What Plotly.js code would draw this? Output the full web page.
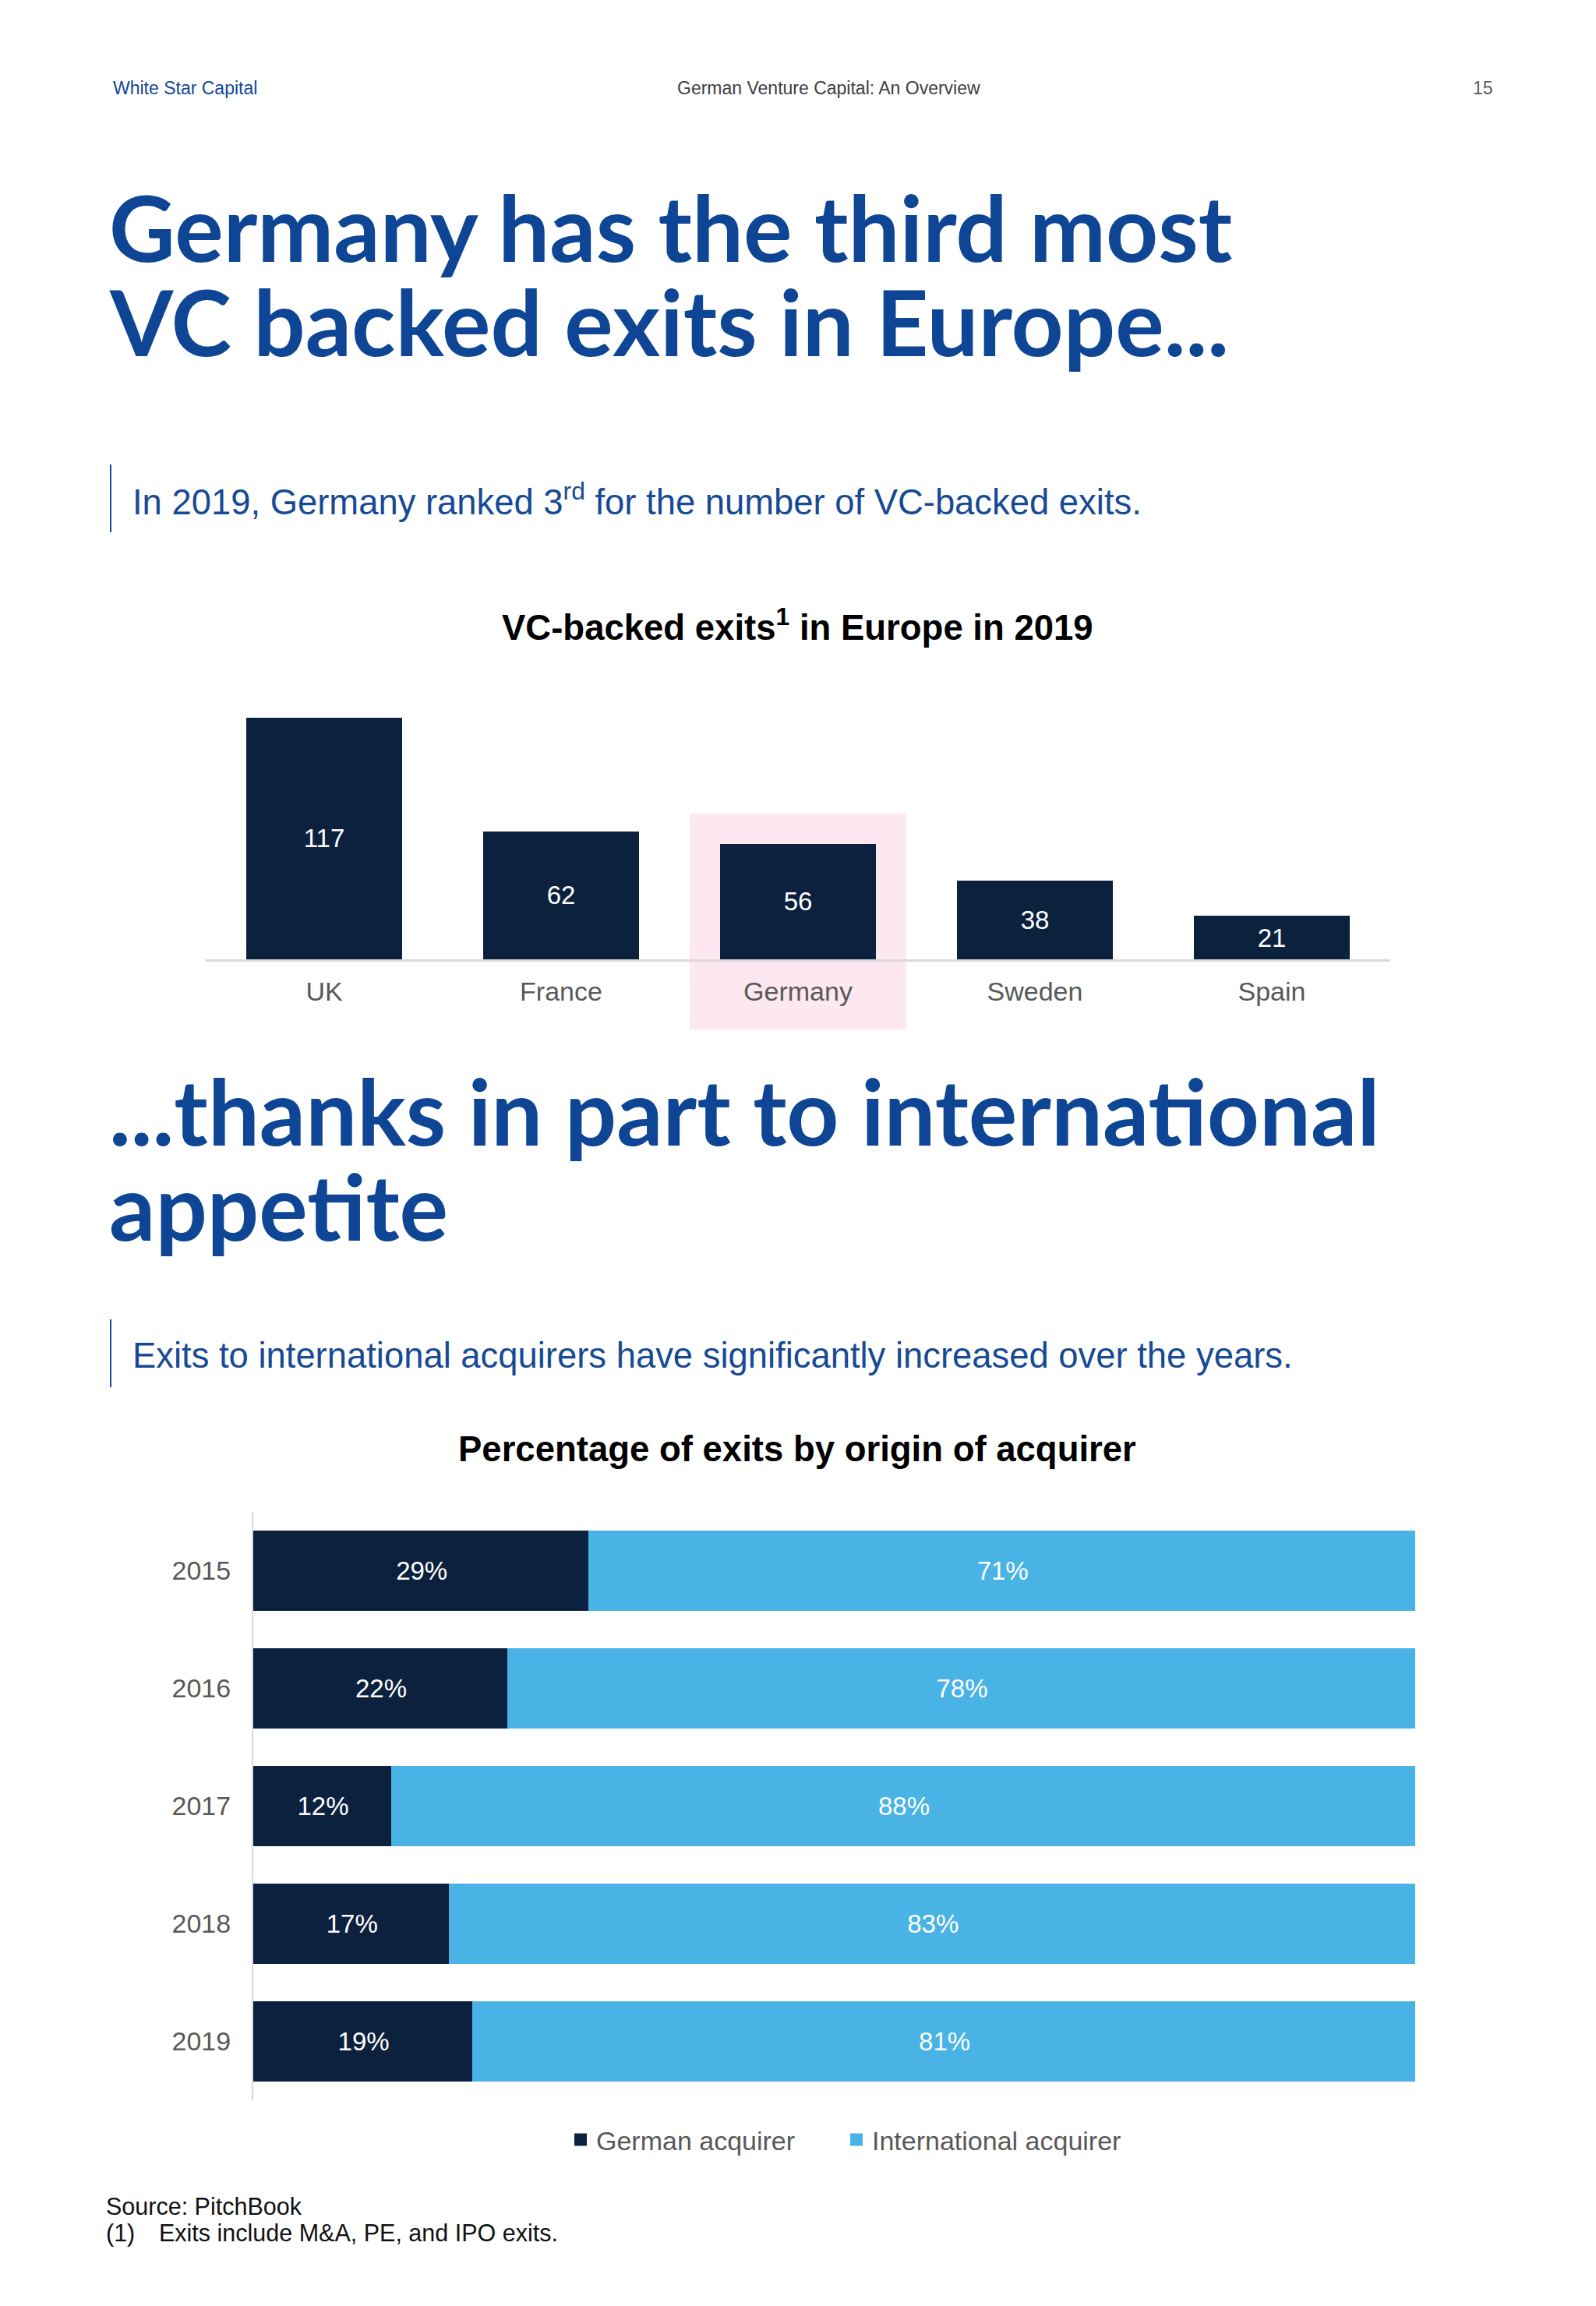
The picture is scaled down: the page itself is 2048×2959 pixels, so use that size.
<!DOCTYPE html>
<html><head><meta charset="utf-8">
<script src="https://cdn.plot.ly/plotly-3.0.1.min.js"></script>
<style>html,body{margin:0;padding:0;background:#fff}</style>
</head><body><div id="chart" style="width:2048px;height:2959px"></div>
<script>
// ---- data ----
const countries = ['UK', 'France', 'Germany', 'Sweden', 'Spain'];
const exits2019 = [117, 62, 56, 38, 21];
const highlightCountry = 'Germany';
const years = ['2015', '2016', '2017', '2018', '2019'];
const germanShare = [29, 22, 12, 17, 19];
const internationalShare = [71, 78, 88, 83, 81];
const seriesNames = ['German acquirer', 'International acquirer'];

// ---- style ----
const W = 2048, H = 2959;
const NAVY = '#0C213D', SKY = '#49B3E6', PINK = '#FDE7F0';
const HEAD = '#0E4595', SUB = '#174A94', GRAY = '#595959';
const ARIAL = 'Liberation Sans, Arial, sans-serif';
const HEADFONT = 'Lato, sans-serif';
const HS = 117;
const px = v => v / W;
const py = v => 1 - v / H;

function ann(text, x, y, size, color, xanchor, extra) {
  return Object.assign({
    text: text, xref: 'paper', yref: 'paper', x: px(x), y: py(y),
    xanchor: xanchor || 'left', yanchor: 'middle', showarrow: false,
    font: {family: ARIAL, size: size, color: color}
  }, extra || {});
}
const headFont = {font: {family: HEADFONT, size: HS, color: HEAD, weight: 700}};

const x1Dom = [264, 1784];
const catW = (x1Dom[1] - x1Dom[0]) / countries.length;
const hi = countries.indexOf(highlightCountry);
const hiHalf = 0.457;

const traces = [
  {
    type: 'bar', x: countries, y: exits2019, xaxis: 'x', yaxis: 'y',
    marker: {color: NAVY}, texttemplate: '%{y}', textposition: 'inside',
    insidetextanchor: 'middle', textangle: 0,
    textfont: {family: ARIAL, size: 33, color: '#FFFFFF'},
    showlegend: false, hoverinfo: 'none'
  },
  {
    type: 'bar', orientation: 'h', y: years, x: germanShare, name: seriesNames[0],
    xaxis: 'x2', yaxis: 'y2', marker: {color: NAVY, line: {color: NAVY, width: 4}}, legend: 'legend',
    texttemplate: '%{x}%', textposition: 'inside', insidetextanchor: 'middle', textangle: 0,
    textfont: {family: ARIAL, size: 33, color: '#FFFFFF'}, hoverinfo: 'none'
  },
  {
    type: 'bar', orientation: 'h', y: years, x: internationalShare, name: seriesNames[1],
    xaxis: 'x2', yaxis: 'y2', marker: {color: SKY, line: {color: SKY, width: 4}}, legend: 'legend2',
    texttemplate: '%{x}%', textposition: 'inside', insidetextanchor: 'middle', textangle: 0,
    textfont: {family: ARIAL, size: 33, color: '#FFFFFF'}, hoverinfo: 'none'
  }
];

const annotations = [
  ann('White Star Capital', 143, 113, 23, '#0F4A96', 'left'),
  ann('German Venture Capital: An Overview', 1063, 113, 23, '#404040', 'center'),
  ann('15', 1918, 113, 23, GRAY, 'right'),
  ann('Germany has the third most', 138, 291, HS, HEAD, 'left', headFont),
  ann('VC backed exits in Europe...', 138, 412, HS, HEAD, 'left', headFont),
  ann('In 2019, Germany ranked 3<sup>rd</sup> for the number of VC-backed exits.', 168, 641, 45.4, SUB, 'left'),
  ann('<b>VC-backed exits<sup>1</sup> in Europe in 2019</b>', 1023, 802, 45.5, '#000000', 'center'),
  ann('...thanks in part to international', 138, 1425, HS, HEAD, 'left', headFont),
  ann('appetite', 138, 1547, HS, HEAD, 'left', headFont),
  ann('Exits to international acquirers have significantly increased over the years.', 168, 1739, 45.4, SUB, 'left'),
  ann('<b>Percentage of exits by origin of acquirer</b>', 1023, 1859, 45.5, '#000000', 'center'),
  ann('Source: PitchBook', 134, 2831, 30.5, '#111111', 'left'),
  ann('(1)', 134, 2865, 30.5, '#111111', 'left'),
  ann('Exits include M&A, PE, and IPO exits.', 202, 2865, 30.5, '#111111', 'left')
];

const shapes = [
  {type: 'rect', xref: 'paper', yref: 'paper', layer: 'below',
   x0: px(x1Dom[0] + (hi + 0.5 - hiHalf) * catW), x1: px(x1Dom[0] + (hi + 0.5 + hiHalf) * catW),
   y0: py(1321), y1: py(1044), fillcolor: PINK, line: {width: 0}},
  {type: 'line', xref: 'paper', yref: 'paper', x0: px(142), x1: px(142), y0: py(596), y1: py(683),
   line: {color: SUB, width: 2}},
  {type: 'line', xref: 'paper', yref: 'paper', x0: px(142), x1: px(142), y0: py(1693), y1: py(1780),
   line: {color: SUB, width: 2}}
];

const legendBase = {orientation: 'h', xanchor: 'left', y: py(2746), yanchor: 'middle',
  font: {family: ARIAL, size: 34, color: GRAY}, bgcolor: 'rgba(0,0,0,0)', itemwidth: 30};

const layout = {
  width: W, height: H, margin: {l: 0, r: 0, t: 0, b: 0, pad: 0},
  paper_bgcolor: '#FFFFFF', plot_bgcolor: 'rgba(0,0,0,0)',
  font: {family: ARIAL, color: GRAY},
  barmode: 'stack', bargap: 0.34,
  xaxis: {domain: [px(x1Dom[0]), px(x1Dom[1])], anchor: 'y', type: 'category',
          showline: true, linecolor: '#D9D9D9', linewidth: 3, ticks: '', showgrid: false,
          zeroline: false, tickfont: {family: ARIAL, size: 34, color: GRAY}, ticklabelstandoff: 9,
          fixedrange: true},
  yaxis: {domain: [py(1231), py(886.5)], anchor: 'x', range: [0, 130], visible: false, fixedrange: true},
  xaxis2: {domain: [px(325), px(1816)], anchor: 'y2', range: [0, 100], visible: false, fixedrange: true},
  yaxis2: {domain: [py(2695), py(1940)], anchor: 'x2', type: 'category', autorange: 'reversed',
           showline: true, linecolor: '#D9D9D9', linewidth: 2, ticks: '', showgrid: false,
           zeroline: false, tickfont: {family: ARIAL, size: 34, color: GRAY}, ticklabelstandoff: 20,
           fixedrange: true},
  showlegend: true,
  legend: Object.assign({}, legendBase, {x: px(725)}),
  legend2: Object.assign({}, legendBase, {x: px(1079)}),
  annotations: annotations,
  shapes: shapes
};

Plotly.newPlot('chart', traces, layout, {staticPlot: true, displayModeBar: false});
</script>
</body></html>
